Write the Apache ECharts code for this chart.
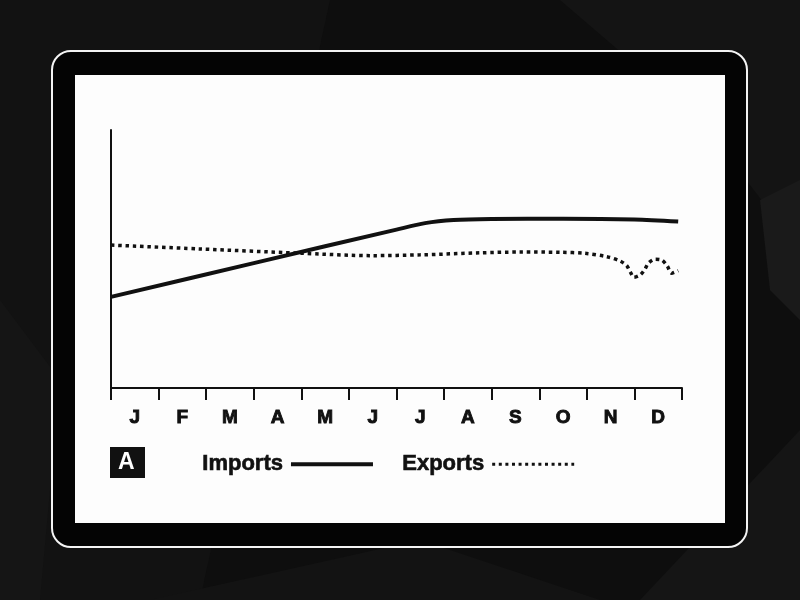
<!DOCTYPE html>
<html>
<head>
<meta charset="utf-8">
<script src="https://cdn.jsdelivr.net/npm/echarts@6/dist/echarts.min.js"></script>
<style>
  html, body { margin:0; padding:0; width:800px; height:600px; overflow:hidden; background:#0e0e0e; }
  .poly { position:absolute; left:0; top:0; width:800px; height:600px; }
  #frame { position:absolute; left:51px; top:50px; width:693px; height:494px; border:2px solid #f4f4f4; border-radius:20px; background:#040404; }
  #panel { position:absolute; left:75px; top:75px; width:650px; height:448px; background:#fdfdfd; }
  #chart { position:absolute; left:0; top:0; width:800px; height:600px; }
</style>
</head>
<body>
<div class="poly" style="background:#121212; clip-path:polygon(0 0, 330px 0, 200px 600px, 0 600px);"></div>
<div class="poly" style="background:#151515; clip-path:polygon(0 300px, 60px 380px, 40px 600px, 0 600px);"></div>
<div class="poly" style="background:#141414; clip-path:polygon(560px 0, 800px 0, 800px 250px, 700px 120px);"></div>
<div class="poly" style="background:#1a1a1a; clip-path:polygon(760px 200px, 800px 180px, 800px 320px, 770px 290px);"></div>
<div class="poly" style="background:#131313; clip-path:polygon(150px 600px, 420px 540px, 600px 600px);"></div>
<div class="poly" style="background:#151515; clip-path:polygon(640px 600px, 800px 430px, 800px 600px);"></div>
<div id="frame"></div>
<div id="panel"></div>
<div id="chart"></div>
<script>
const months = ['J','F','M','A','M','J','J','A','S','O','N','D'];
const importsMonth = [0, 3, 6.0, 6.6, 7.2, 8, 9.5, 11, 11.92];
const importsValue = [35.3, 48.4, 61.4, 63.9, 65.1, 65.5, 65.6, 65.3, 64.5];
const exportsMonth = [0, 1.87, 3.91, 5.5, 6.5, 7.76, 8.6, 9.44, 9.96, 10.42, 10.70, 10.84, 10.91, 10.99, 11.12, 11.22, 11.29, 11.43, 11.57, 11.69, 11.78, 11.92];
const exportsValue = [55.4, 53.9, 52.3, 51.3, 51.6, 52.4, 52.7, 52.6, 52.2, 50.9, 49.2, 47.4, 45.1, 42.9, 43.8, 46.0, 48.3, 49.9, 49.6, 47.3, 44.5, 45.5];

const pair = (xs, ys) => xs.map((x, i) => [x, ys[i]]);
const ink = '#111111';
const font = "'Liberation Sans', Arial, sans-serif";
const chart = echarts.init(document.getElementById('chart'));
chart.setOption({
  backgroundColor: 'transparent',
  animation: false,
  grid: { left: 111, right: 118, top: 130, bottom: 212, containLabel: false },
  xAxis: [
    {
      type: 'value', min: 0, max: 12, interval: 1, position: 'bottom',
      axisLine: { show: true, lineStyle: { color: ink, width: 2 } },
      axisTick: { show: true, length: 12, lineStyle: { color: ink, width: 2 } },
      axisLabel: { show: false },
      splitLine: { show: false }
    },
    {
      type: 'category', data: months, boundaryGap: true, position: 'bottom',
      axisLine: { show: false }, axisTick: { show: false }, splitLine: { show: false },
      axisLabel: {
        show: true, margin: 20, color: ink, fontSize: 19, fontWeight: 'bold',
        fontFamily: font, textBorderColor: ink, textBorderWidth: 0.9
      }
    }
  ],
  yAxis: {
    type: 'value', min: 0, max: 100,
    axisLine: { show: true, lineStyle: { color: ink, width: 2 } },
    axisTick: { show: false }, axisLabel: { show: false }, splitLine: { show: false }
  },
  legend: {
    data: [
      { name: 'Imports', lineStyle: { width: 4, color: ink } },
      { name: 'Exports', lineStyle: { width: 3, color: ink, type: [3, 3.6] } }
    ],
    left: 197, top: 448, align: 'right',
    itemWidth: 82, itemHeight: 20, itemGap: 27,
    itemStyle: { opacity: 0 },
    textStyle: { color: ink, fontSize: 22, fontWeight: 'bold', fontFamily: font, textBorderColor: ink, textBorderWidth: 0.6, padding: [0, 3, 0, 0] }
  },
  graphic: [
    { type: 'rect', left: 110, top: 447, shape: { width: 35, height: 31 }, style: { fill: ink } },
    { type: 'text', left: 118, top: 451, style: { text: 'A', fill: '#ffffff', fontSize: 23, fontWeight: 'bold', fontFamily: font } }
  ],
  series: [
    {
      name: 'Imports', type: 'line', xAxisIndex: 0, smooth: 0.3, symbol: 'none',
      data: pair(importsMonth, importsValue),
      lineStyle: { color: ink, width: 4 }, itemStyle: { color: ink }
    },
    {
      name: 'Exports', type: 'line', xAxisIndex: 0, smooth: 0.3, symbol: 'none',
      data: pair(exportsMonth, exportsValue),
      lineStyle: { color: ink, width: 3.5, type: [3.5, 3.8] }, itemStyle: { color: ink }
    }
  ]
});
</script>
</body>
</html>
